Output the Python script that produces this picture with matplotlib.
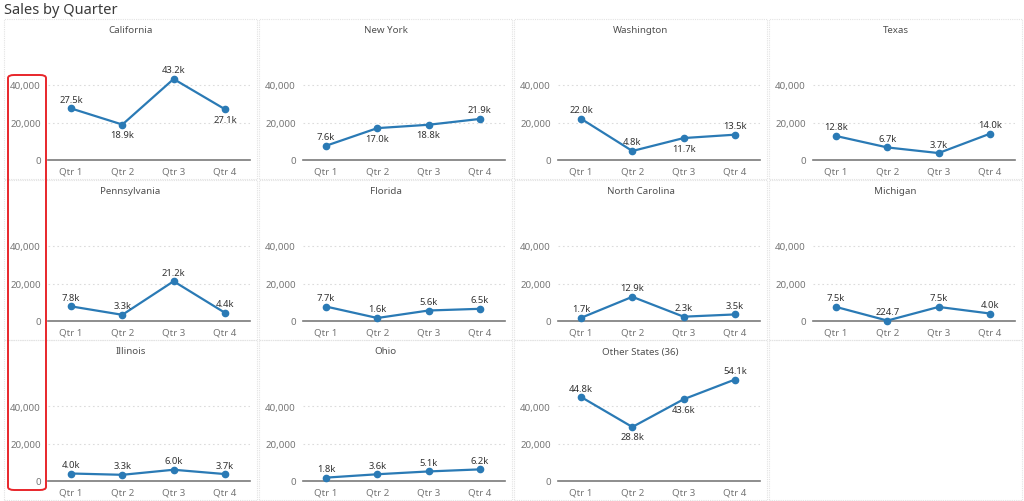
import matplotlib
matplotlib.use("Agg")
import matplotlib.pyplot as plt
from matplotlib.patches import Rectangle, FancyBboxPatch

### data ###
quarters = ["Qtr 1", "Qtr 2", "Qtr 3", "Qtr 4"]
states = ["California", "New York", "Washington", "Texas",
          "Pennsylvania", "Florida", "North Carolina", "Michigan",
          "Illinois", "Ohio", "Other States (36)"]
sales = [
    [27500, 18900, 43200, 27100],
    [7600, 17000, 18800, 21900],
    [22000, 4800, 11700, 13500],
    [12800, 6700, 3700, 14000],
    [7800, 3300, 21200, 4400],
    [7700, 1600, 5600, 6500],
    [1700, 12900, 2300, 3500],
    [7500, 224.7, 7500, 4000],
    [4000, 3300, 6000, 3700],
    [1800, 3600, 5100, 6200],
    [44800, 28800, 43600, 54100],
]
value_labels = [
    ["27.5k", "18.9k", "43.2k", "27.1k"],
    ["7.6k", "17.0k", "18.8k", "21.9k"],
    ["22.0k", "4.8k", "11.7k", "13.5k"],
    ["12.8k", "6.7k", "3.7k", "14.0k"],
    ["7.8k", "3.3k", "21.2k", "4.4k"],
    ["7.7k", "1.6k", "5.6k", "6.5k"],
    ["1.7k", "12.9k", "2.3k", "3.5k"],
    ["7.5k", "224.7", "7.5k", "4.0k"],
    ["4.0k", "3.3k", "6.0k", "3.7k"],
    ["1.8k", "3.6k", "5.1k", "6.2k"],
    ["44.8k", "28.8k", "43.6k", "54.1k"],
]
# label above (a) or below (b) the point
label_side = {
    "California": "abab",
    "New York": "abba",
    "Washington": "aaba",
    "Other States (36)": "abba",
}
yticks = [0, 20000, 40000]
ytick_labels = ["0", "20,000", "40,000"]
#############

W, H = 1024, 502
plt.rcParams["font.family"] = ["Noto Sans", "DejaVu Sans"]

fig = plt.figure(figsize=(W / 100, H / 100), dpi=100)
fig.patch.set_facecolor("white")

def fx(px):
    return px / W

def fy(py):
    return 1 - py / H

line_c = "#2a7ab5"
grey_txt = "#767676"
dark_txt = "#333333"

fig.text(fx(4), fy(11), "Sales by Quarter", fontsize=10.5, color="#3a3a3a",
         ha="left", va="center")

col_x = [4, 259, 514, 769]
row_y = [20, 181, 341]
pw, ph = 253, 160
ymax = 60000
px_per = 37.5 / 20000

for k in range(12):
    r, c = divmod(k, 4)
    x0, y0 = col_x[c], row_y[r]
    fig.add_artist(Rectangle((fx(x0), fy(y0 + ph)), pw / W, ph / H,
                             transform=fig.transFigure, fill=False,
                             ec="#e3e3e3", lw=0.8, ls=(0, (1, 1))))
    if k >= len(states):
        continue
    name = states[k]
    base = y0 + 141
    top = base - ymax * px_per
    ax = fig.add_axes([fx(x0 + 44), fy(base), 202 / W, (base - top) / H])
    ax.set_ylim(0, ymax)
    ax.set_xlim(-0.45, 3.49)
    xs = range(len(quarters))
    ax.plot(xs, sales[k], color=line_c, lw=1.6, marker="o", ms=4.5,
            clip_on=False, zorder=3)
    side = label_side.get(name, "aaaa")
    for i, v in enumerate(sales[k]):
        dy = 9 if side[i] == "a" else -10
        ax.annotate(value_labels[k][i], (i, v), xytext=(0, dy),
                    textcoords="offset pixels", ha="center", va="center",
                    fontsize=6.8, color=dark_txt, zorder=4)
    for g in [20000, 40000]:
        ax.axhline(g, color="#dcdcdc", lw=0.8, ls=(0, (1.5, 2.5)), zorder=1)
    ax.set_yticks(yticks)
    ax.set_yticklabels(ytick_labels)
    ax.set_xticks(list(xs))
    ax.set_xticklabels(quarters)
    ax.tick_params(axis="both", length=0, labelsize=7, labelcolor=grey_txt)
    ax.tick_params(axis="y", pad=5)
    ax.tick_params(axis="x", pad=5)
    for s in ["top", "right", "left"]:
        ax.spines[s].set_visible(False)
    ax.spines["bottom"].set_color("#7a7a7a")
    ax.spines["bottom"].set_linewidth(1.2)
    ax.patch.set_alpha(0)
    fig.text(fx(x0 + pw / 2), fy(y0 + 11), name, fontsize=7,
             color="#505050", ha="center", va="center")

# highlight box round the first column's axis labels
fig.add_artist(FancyBboxPatch((fx(8), fy(491)), 38 / W, 415 / H,
                              boxstyle="round,pad=0,rounding_size=0.006",
                              transform=fig.transFigure, fill=False,
                              ec="#e8262b", lw=1.4))

fig.savefig("out.png", dpi=100)
